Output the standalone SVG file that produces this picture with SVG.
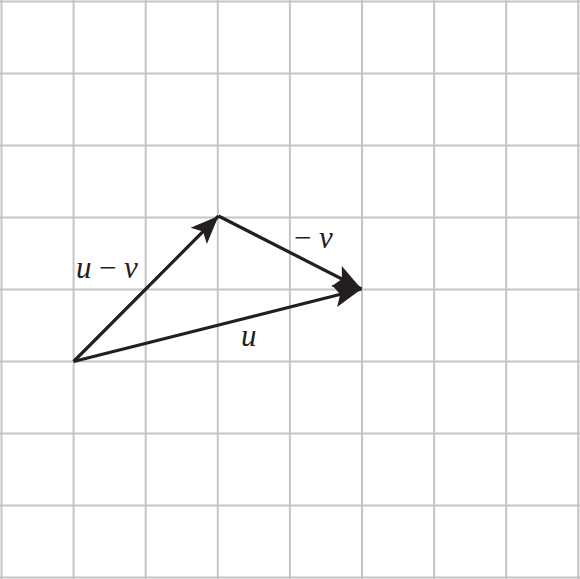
<svg xmlns="http://www.w3.org/2000/svg" width="580" height="579" viewBox="0 0 580 579">
<style>
.grid line{stroke:#c4c4c6;stroke-width:2}
.vec{stroke:#231f20;stroke-width:3.2;fill:none;marker-end:url(#ah)}
.lbl{font-family:"Liberation Serif","Times New Roman",serif;font-size:31px;fill:#231f20}
.it{font-style:italic}
</style>
<defs>
<marker id="ah" markerUnits="userSpaceOnUse" markerWidth="30" markerHeight="26" refX="28" refY="12" orient="auto" overflow="visible">
<path d="M0,0.5 L28,12 L0,23.5 L6,12 Z" fill="#231f20"/>
</marker>
</defs>
<rect width="580" height="579" fill="#ffffff"/>
<g id="grid" class="grid">
<line x1="1.5" y1="0" x2="1.5" y2="579"/>
<line x1="73.6" y1="0" x2="73.6" y2="579"/>
<line x1="145.7" y1="0" x2="145.7" y2="579"/>
<line x1="217.8" y1="0" x2="217.8" y2="579"/>
<line x1="289.9" y1="0" x2="289.9" y2="579"/>
<line x1="362" y1="0" x2="362" y2="579"/>
<line x1="434.1" y1="0" x2="434.1" y2="579"/>
<line x1="506.2" y1="0" x2="506.2" y2="579"/>
<line x1="578.3" y1="0" x2="578.3" y2="579"/>
<line x1="0" y1="1.5" x2="580" y2="1.5"/>
<line x1="0" y1="73.5" x2="580" y2="73.5"/>
<line x1="0" y1="145.5" x2="580" y2="145.5"/>
<line x1="0" y1="217.5" x2="580" y2="217.5"/>
<line x1="0" y1="289.5" x2="580" y2="289.5"/>
<line x1="0" y1="361.5" x2="580" y2="361.5"/>
<line x1="0" y1="433.5" x2="580" y2="433.5"/>
<line x1="0" y1="505.5" x2="580" y2="505.5"/>
<line x1="0" y1="577.5" x2="580" y2="577.5"/>
</g>
<g id="connectors">
<path id="vec-u-minus-v" class="vec" d="M73.6,361.5 L218.5,216"/>
<path id="vec-minus-v" class="vec" d="M218.5,216 L361.5,289"/>
<path id="vec-u" class="vec" d="M73.6,361.5 L361.5,289"/>
</g>
<g id="label-u-minus-v" class="lbl">
<text x="76" y="278" class="it">u</text>
<text x="99" y="278">−</text>
<text x="124" y="278" class="it">v</text>
</g>
<g id="label-minus-v" class="lbl">
<text x="294" y="248">−</text>
<text x="319" y="248" class="it">v</text>
</g>
<g id="label-u" class="lbl">
<text x="241" y="346" class="it">u</text>
</g>
</svg>
